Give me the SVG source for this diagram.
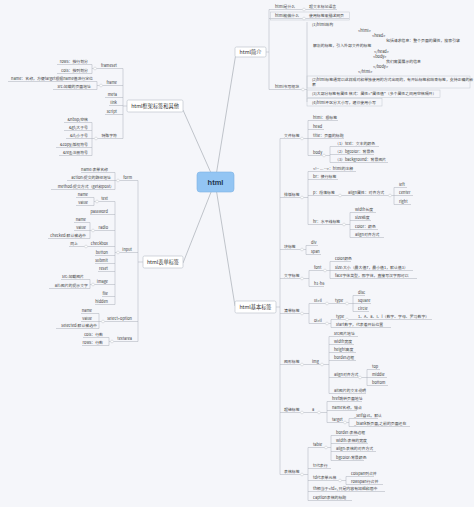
<svg xmlns="http://www.w3.org/2000/svg" width="474" height="507" viewBox="0 0 474 507">
<style>
.bg{fill:#f5f6fa}
.t{font-family:"Noto Sans CJK SC","Noto Sans",sans-serif;font-size:3.9px;fill:#3c3c3c}
.e{text-anchor:end}
.m{font-family:"Noto Sans CJK SC","Noto Sans",sans-serif;font-size:5.2px;fill:#333;text-anchor:middle}
.ln{stroke:#a9afb8;stroke-width:0.5;fill:none}
.mn{stroke:#9aa1aa;stroke-width:0.6;fill:none}
.c{fill:#fff;stroke:#b3b8c0;stroke-width:0.4}
.box{fill:#fff;stroke:#b5bdc8;stroke-width:0.6}
.fb{fill:none;stroke:#c2c8d0;stroke-width:0.5}
</style>
<defs><circle id="k" r="1.4" class="c"/></defs>
<rect class="bg" x="0" y="0" width="474" height="507"/>
<g id="connectors">
<path class="mn" d="M215 182L236 53M215 182L183 110M215 182L183 263M215 182L235 306"/>
<path class="ln" d="M266 52H269M269 9.5V89.5M269 9.5H302.6M305.4 9.5H337M269 18.5H302.6M305.4 18.5H349M269 89.5H301.6M304.4 89.5H307M307 22V102"/>
<path class="ln" d="M276 307H280M280 138.5V474.5
M280 138.5H300.6M303.4 138.5H308M308 120.5V155.5M308 120.5H338M308 129.5H324M308 138.5H344M308 155.5H322.6M325.4 155.5H330M330 146.5V162.5M330 146.5H379M330 154.5H374M330 162.5H388
M280 197.5H300.6M303.4 197.5H308M308 171.5V224.5M308 171.5H356M308 179.5H338M308 195.5H338.6M341.4 195.5H388.6M391.4 195.5H394M394 187.5V204.5M394 187.5H407M394 195.5H413M394 204.5H411M308 224.5H342.6M345.4 224.5H350M350 212.5V237.5M350 212.5H376M350 220.5H371M350 229.5H378M350 237.5H384
M280 249.5H300.6M303.4 249.5H306M306 245.5V254.5M306 245.5H318M306 254.5H321
M280 278.5H300.6M303.4 278.5H309M309 270.5V286.5M309 270.5H323.6M326.4 270.5H330M330 261.5V278.5M330 261.5H351M330 270.5H413M330 278.5H417M309 286.5H324
M280 313.5H300.6M303.4 313.5H309M309 303.5V323.5M309 303.5H325.6M328.4 303.5H345.6M348.4 303.5H353M353 295.5V311.5M353 295.5H365M353 303.5H371M353 311.5H369M309 323.5H325.6M328.4 323.5H331M331 319.5V327.5M331 319.5H345.6M348.4 319.5H432M331 327.5H391
M280 364.5H300.6M303.4 364.5H320.6M323.4 364.5H329M329 336.5V393.5M329 336.5H358M329 344.5H354M329 352.5H356M329 360.5H356M329 377.5H358.6M361.4 377.5H367M367 369.5V385.5M367 369.5H380M367 377.5H387M367 385.5H388M329 393.5H366
M280 412.5H300.6M303.4 412.5H317.6M320.4 412.5H327M327 401.5V422.5M327 401.5H362M327 410.5H357M327 422.5H343.6M346.4 422.5H349M349 418.5V426.5M349 418.5H378M349 426.5H410
M280 474.5H300.6M303.4 474.5H308M308 447.5V500.5M308 447.5H324.6M327.4 447.5H331M331 435.5V460.5M331 435.5H358M331 443.5H368M331 451.5H376M331 460.5H364M308 468.5H331M308 480.5H338.6M341.4 480.5H346M346 476.5V484.5M346 476.5H374M346 484.5H383M308 491.5H385M308 500.5H352"/>
<path class="ln" d="M127 106H123M123 68.5V138.5
M123 68.5H96.4M93.6 68.5H92M92 64.5V73.5M92 64.5H57M92 73.5H57
M123 85.5H102.4M99.6 85.5H97M97 81.5V89.5M97 81.5H8M97 89.5H53
M123 97.5H105M123 105.5H109M123 114.5H105
M123 138.5H97.4M94.6 138.5H92M92 122.5V155.5M92 122.5H64M92 130.5H64M92 138.5H66M92 147.5H56M92 155.5H59"/>
<path class="ln" d="M143 262H138M138 180.5V341.5
M138 180.5H119.4M116.6 180.5H115M115 172.5V189.5M115 172.5H81M115 180.5H67M115 189.5H51
M138 252.5H119.4M116.6 252.5H115M115 201.5V304.5
M115 201.5H98.4M95.6 201.5H94M94 197.5V205.5M94 197.5H76M94 205.5H76
M115 214.5H90
M115 230.5H94.4M91.6 230.5H90M90 222.5V238.5M90 222.5H74M90 230.5H74M90 238.5H48
M115 246.5H87.4M84.6 246.5H69
M115 255.5H95M115 263.5H95M115 271.5H98
M115 284.5H94.4M91.6 284.5H90M90 279.5V288.5M90 279.5H61M90 288.5H49
M115 296.5H102M115 304.5H95
M138 321.5H104.4M101.6 321.5H99M99 313.5V328.5M99 313.5H81M99 321.5H81M99 328.5H56
M138 341.5H113.4M110.6 341.5H109M109 337.5V345.5M109 337.5H83M109 345.5H82"/>
</g>
<g id="n-root"><rect x="197" y="172" width="37" height="20" rx="3" fill="#93c5f3" stroke="#7eb2e4" stroke-width="0.6"/><text x="215.5" y="185" text-anchor="middle" font-family="'Liberation Sans','Noto Sans',sans-serif" font-size="7.5" font-weight="bold" fill="#1e3550">html</text></g>
<g id="n-intro"><rect class="box" x="235" y="47" width="31" height="10" rx="1.5"/><text class="m" x="250.5" y="53.8">html简介</text></g>
<g id="n-what"><text class="t" x="275" y="8.3">html是什么</text><use href="#k" x="304" y="9.5"/></g>
<g id="n-what1"><text class="t" x="309" y="8.3">超文本标记语言</text></g>
<g id="n-can"><rect class="fb" x="270.5" y="12" width="79" height="8"/><text class="t" x="275" y="17.3">html能做什么</text><use href="#k" x="304" y="18.5"/></g>
<g id="n-can1"><text class="t" x="309" y="17.3">使用标签来描述网页</text></g>
<g id="n-norm"><text class="t" x="275" y="88.3">html书写规范</text><use href="#k" x="303" y="89.5"/></g>
<g id="n-norm1"><text class="t" x="312" y="26.3">(1)html结构</text><text class="t" x="358" y="32.3">&lt;html&gt;</text><text class="t" x="372" y="36.8">&lt;head&gt;</text><text class="t" x="386" y="42.3">包括请求信息：整个页面的属性，搜索引擎</text><text class="t" x="313" y="46.6">解析的标签，引入外部文件的标签</text><text class="t" x="374" y="53.3">&lt;/head&gt;</text><text class="t" x="373" y="58.3">&lt;body&gt;</text><text class="t" x="386" y="63.3">我们需要展示的信息</text><text class="t" x="373" y="68.3">&lt;/body&gt;</text><text class="t" x="358" y="73.3">&lt;/html&gt;</text></g>
<g id="n-norm2"><rect class="fb" x="307" y="76" width="163" height="12"/><text class="t" x="312" y="81.2">(2)html标签通常以这样成对和单独使用的方式出现的，有开始标签和结束标签，支持正确的嵌</text><text class="t" x="312" y="86.3">套</text></g>
<g id="n-norm3"><rect class="fb" x="307" y="90" width="133" height="7.5"/><text class="t" x="312" y="95.2">(3)大部分标签有属性 格式：属性="属性值"（多个属性之间用空格隔开）</text></g>
<g id="n-norm4"><rect class="fb" x="307" y="98.5" width="75" height="7.5"/><text class="t" x="312" y="103.6">(4)html不区分大小写，建议使用小写</text></g>
<g id="n-basic"><rect class="box" x="235" y="301" width="41" height="12" rx="1.5"/><text class="m" x="255.5" y="308.8">html基本标签</text></g>
<g id="n-file"><text class="t" x="284" y="137.3">文件标签</text><use href="#k" x="302" y="138.5"/></g>
<g id="n-file1"><text class="t" x="313" y="119.3">html：根标签</text></g>
<g id="n-file2"><text class="t" x="313" y="128.3">head</text></g>
<g id="n-file3"><text class="t" x="313" y="137.3">title：页面的标题</text></g>
<g id="n-body"><text class="t" x="313" y="154.3">body</text><use href="#k" x="324" y="155.5"/></g>
<g id="n-body1"><text class="t" x="335" y="145.3">（1）text：文本的颜色</text></g>
<g id="n-body2"><text class="t" x="335" y="153.3">（2）bgcolor：背景色</text></g>
<g id="n-body3"><text class="t" x="335" y="161.3">（3）background：背景图片</text></g>
<g id="n-type"><text class="t" x="284" y="196.3">排版标签</text><use href="#k" x="302" y="197.5"/></g>
<g id="n-cmt"><text class="t" x="313" y="170.3">&lt;!-- ... --&gt;：html的注释</text></g>
<g id="n-br"><text class="t" x="313" y="178.3">br：换行标签</text></g>
<g id="n-p"><text class="t" x="313" y="194.3">p：段落标签</text><use href="#k" x="340" y="195.5"/></g>
<g id="n-palign"><text class="t" x="348" y="194.3">align属性：对齐方式</text><use href="#k" x="390" y="195.5"/></g>
<g id="n-left"><text class="t" x="399" y="186.3">left</text></g>
<g id="n-center"><text class="t" x="399" y="194.3">center</text></g>
<g id="n-right"><text class="t" x="399" y="203.3">right</text></g>
<g id="n-hr"><text class="t" x="313" y="223.3">hr：水平线标签</text><use href="#k" x="344" y="224.5"/></g>
<g id="n-hr1"><text class="t" x="355" y="211.3">width长度</text></g>
<g id="n-hr2"><text class="t" x="355" y="219.3">size粗度</text></g>
<g id="n-hr3"><text class="t" x="355" y="228.3">color：颜色</text></g>
<g id="n-hr4"><text class="t" x="355" y="236.3">align对齐方式</text></g>
<g id="n-block"><text class="t" x="284" y="248.3">块标签</text><use href="#k" x="302" y="249.5"/></g>
<g id="n-div"><text class="t" x="311" y="244.3">div</text></g>
<g id="n-span"><text class="t" x="311" y="253.3">span</text></g>
<g id="n-word"><text class="t" x="284" y="277.3">文字标签</text><use href="#k" x="302" y="278.5"/></g>
<g id="n-font"><text class="t" x="314" y="269.3">font</text><use href="#k" x="325" y="270.5"/></g>
<g id="n-font1"><text class="t" x="335" y="260.3">color颜色</text></g>
<g id="n-font2"><text class="t" x="335" y="269.3">size:大小（最大值7，最小值1，默认值3）</text></g>
<g id="n-font3"><text class="t" x="335" y="277.3">face字体类型，即字体，直接写汉字即可以</text></g>
<g id="n-h"><text class="t" x="314" y="285.3">h1-h6</text></g>
<g id="n-list"><text class="t" x="284" y="312.3">清单标签</text><use href="#k" x="302" y="313.5"/></g>
<g id="n-ul"><text class="t" x="314" y="302.3">ul&gt;li</text><use href="#k" x="327" y="303.5"/></g>
<g id="n-ultype"><text class="t" x="335" y="302.3">type</text><use href="#k" x="347" y="303.5"/></g>
<g id="n-disc"><text class="t" x="358" y="294.3">disc</text></g>
<g id="n-square"><text class="t" x="358" y="302.3">square</text></g>
<g id="n-circle"><text class="t" x="358" y="310.3">circle</text></g>
<g id="n-ol"><text class="t" x="314" y="322.3">ol&gt;li</text><use href="#k" x="327" y="323.5"/></g>
<g id="n-oltype"><text class="t" x="336" y="318.3">type</text><use href="#k" x="347" y="319.5"/></g>
<g id="n-oltype1"><text class="t" x="358" y="318.3">1、A、a、I、i（数字、字母、罗马数字）</text></g>
<g id="n-start"><text class="t" x="336" y="326.3">start数字，代表着开始位置</text></g>
<g id="n-graph"><text class="t" x="284" y="363.3">图形标签</text><use href="#k" x="302" y="364.5"/></g>
<g id="n-img"><text class="t" x="312" y="363.3">img</text><use href="#k" x="322" y="364.5"/></g>
<g id="n-img1"><text class="t" x="334" y="335.3">src图片地址</text></g>
<g id="n-img2"><text class="t" x="334" y="343.3">width宽度</text></g>
<g id="n-img3"><text class="t" x="334" y="351.3">height高度</text></g>
<g id="n-img4"><text class="t" x="334" y="359.3">border边框</text></g>
<g id="n-img5"><text class="t" x="334" y="376.3">align对齐方式</text><use href="#k" x="360" y="377.5"/></g>
<g id="n-top"><text class="t" x="372" y="368.3">top</text></g>
<g id="n-middle"><text class="t" x="372" y="376.3">middle</text></g>
<g id="n-bottom"><text class="t" x="372" y="384.3">bottom</text></g>
<g id="n-img6"><text class="t" x="334" y="392.3">alt图片的文本说明</text></g>
<g id="n-link"><text class="t" x="284" y="411.3">超链标签</text><use href="#k" x="302" y="412.5"/></g>
<g id="n-a"><text class="t" x="312" y="411.3">a</text><use href="#k" x="319" y="412.5"/></g>
<g id="n-a1"><text class="t" x="332" y="400.3">href跳转页面地址</text></g>
<g id="n-a2"><text class="t" x="332" y="409.3">name名称，锚点</text></g>
<g id="n-target"><text class="t" x="332" y="421.3">target</text><use href="#k" x="345" y="422.5"/></g>
<g id="n-self"><text class="t" x="354" y="417.3">_self自己，默认</text></g>
<g id="n-blank"><text class="t" x="354" y="425.3">_blank新页面,之前的页面还在</text></g>
<g id="n-tablet"><text class="t" x="284" y="473.3">表格标签</text><use href="#k" x="302" y="474.5"/></g>
<g id="n-table"><text class="t" x="313" y="446.3">table</text><use href="#k" x="326" y="447.5"/></g>
<g id="n-table1"><text class="t" x="336" y="434.3">border:表格边框</text></g>
<g id="n-table2"><text class="t" x="336" y="442.3">width:表格的宽度</text></g>
<g id="n-table3"><text class="t" x="336" y="450.3">align:表格的对齐方式</text></g>
<g id="n-table4"><text class="t" x="336" y="459.3">bgcolor:背景颜色</text></g>
<g id="n-tr"><text class="t" x="313" y="467.3">tr代表行</text></g>
<g id="n-td"><text class="t" x="313" y="479.3">td代表单元格</text><use href="#k" x="340" y="480.5"/></g>
<g id="n-td1"><text class="t" x="351" y="475.3">colspan列合并</text></g>
<g id="n-td2"><text class="t" x="351" y="483.3">rowspan行合并</text></g>
<g id="n-th"><text class="t" x="313" y="490.3">th相当于&lt;td&gt;, 只是内容有加粗和居中</text></g>
<g id="n-caption"><text class="t" x="313" y="499.3">caption表格的标题</text></g>
<g id="n-frame"><rect class="box" x="127" y="100" width="56" height="12" rx="1.5"/><text class="m" x="155" y="107.8">html框架标签和其他</text></g>
<g id="n-frameset"><text class="t e" x="117" y="67.3">frameset</text><use href="#k" x="95" y="68.5"/></g>
<g id="n-rows"><text class="t e" x="88" y="63.3">rows：按行划分</text></g>
<g id="n-cols"><text class="t e" x="88" y="72.3">cols：按列划分</text></g>
<g id="n-frm"><text class="t e" x="117" y="84.3">frame</text><use href="#k" x="101" y="85.5"/></g>
<g id="n-frm1"><text class="t e" x="93" y="80.3">name：名称，方便target根据name值进行定位</text></g>
<g id="n-frm2"><text class="t e" x="91" y="88.3">src:加载的页面地址</text></g>
<g id="n-meta"><text class="t e" x="117" y="96.3">meta</text></g>
<g id="n-linkt"><text class="t e" x="117" y="104.3">link</text></g>
<g id="n-script"><text class="t e" x="117" y="113.3">script</text></g>
<g id="n-spec"><text class="t e" x="117" y="137.3">特殊字符</text><use href="#k" x="96" y="138.5"/></g>
<g id="n-sp1"><text class="t e" x="88" y="121.3">&amp;nbsp;空格</text></g>
<g id="n-sp2"><text class="t e" x="88" y="129.3">&amp;gt;大于号</text></g>
<g id="n-sp3"><text class="t e" x="88" y="137.3">&amp;lt;小于号</text></g>
<g id="n-sp4"><text class="t e" x="88" y="146.3">&amp;copy;版权符号</text></g>
<g id="n-sp5"><text class="t e" x="88" y="154.3">&amp;reg;注册符号</text></g>
<g id="n-formt"><rect class="box" x="143" y="256" width="40" height="12" rx="1.5"/><text class="m" x="163" y="263.8">html表单标签</text></g>
<g id="n-form"><text class="t e" x="132" y="179.3">form</text><use href="#k" x="118" y="180.5"/></g>
<g id="n-form1"><text class="t e" x="108" y="171.3">name:表单名称</text></g>
<g id="n-form2"><text class="t e" x="111" y="179.3">action:提交的路径地址</text></g>
<g id="n-form3"><text class="t e" x="114" y="188.3">method:提交方式（get和post）</text></g>
<g id="n-input"><text class="t e" x="132" y="251.3">input</text><use href="#k" x="118" y="252.5"/></g>
<g id="n-text"><text class="t e" x="108" y="200.3">text</text><use href="#k" x="97" y="201.5"/></g>
<g id="n-text1"><text class="t e" x="88" y="196.3">name</text></g>
<g id="n-text2"><text class="t e" x="88" y="204.3">value</text></g>
<g id="n-pwd"><text class="t e" x="108" y="213.3">password</text></g>
<g id="n-radio"><text class="t e" x="108" y="229.3">radio</text><use href="#k" x="93" y="230.5"/></g>
<g id="n-radio1"><text class="t e" x="86" y="221.3">name</text></g>
<g id="n-radio2"><text class="t e" x="86" y="229.3">value</text></g>
<g id="n-radio3"><text class="t e" x="86" y="237.3">checked:默认被选中</text></g>
<g id="n-check"><text class="t e" x="108" y="245.3">checkbox</text><use href="#k" x="86" y="246.5"/></g>
<g id="n-check1"><text class="t e" x="78" y="245.3">同上</text></g>
<g id="n-button"><text class="t e" x="108" y="254.3">button</text></g>
<g id="n-submit"><text class="t e" x="108" y="262.3">submit</text></g>
<g id="n-reset"><text class="t e" x="108" y="270.3">reset</text></g>
<g id="n-image"><text class="t e" x="108" y="283.3">image</text><use href="#k" x="93" y="284.5"/></g>
<g id="n-image1"><text class="t e" x="84" y="278.3">src:加载图片</text></g>
<g id="n-image2"><text class="t e" x="88" y="287.3">alt:图片的提示文字</text></g>
<g id="n-filei"><text class="t e" x="108" y="295.3">file</text></g>
<g id="n-hidden"><text class="t e" x="108" y="303.3">hidden</text></g>
<g id="n-select"><text class="t e" x="132" y="320.3">select+option</text><use href="#k" x="103" y="321.5"/></g>
<g id="n-sel1"><text class="t e" x="92" y="312.3">name</text></g>
<g id="n-sel2"><text class="t e" x="92" y="320.3">value</text></g>
<g id="n-sel3"><text class="t e" x="97" y="327.3">selected:默认被选中</text></g>
<g id="n-textarea"><text class="t e" x="132" y="340.3">textarea</text><use href="#k" x="112" y="341.5"/></g>
<g id="n-ta1"><text class="t e" x="103" y="336.3">cols：行数</text></g>
<g id="n-ta2"><text class="t e" x="103" y="344.3">rows：行数</text></g>
</svg>
